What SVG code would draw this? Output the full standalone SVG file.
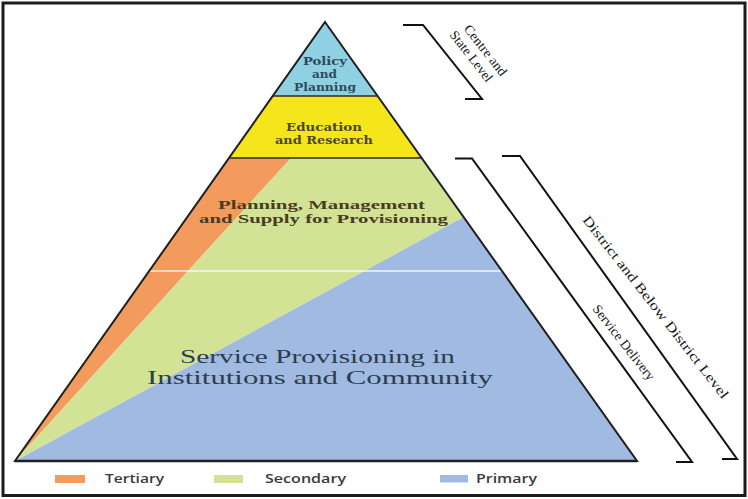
<svg xmlns="http://www.w3.org/2000/svg" width="748" height="499" viewBox="0 0 748 499">
<style>
.edge{fill:none;stroke:#1f1f1f;stroke-width:2;stroke-linejoin:miter}
.sep{fill:none;stroke:#2a2a2a;stroke-width:1.5}
.br{fill:none;stroke:#111;stroke-width:2;stroke-linejoin:miter}
.bold{font-family:"Liberation Serif","Times New Roman",serif;font-weight:bold}
.heavy{font-family:"DejaVu Serif","Liberation Serif",serif;font-weight:bold}
.reg{font-family:"Liberation Serif","Times New Roman",serif}
.side{font-family:"Liberation Serif","Times New Roman",serif;font-size:13.5px;fill:#1a1a1a}
.leg{font-family:"Open Sans","Liberation Sans",sans-serif;font-weight:600;font-size:13px;fill:#3a3a3a}
</style>
<rect x="0" y="0" width="748" height="499" fill="#ffffff"/>
<rect x="3" y="3" width="742" height="492.5" fill="#ffffff" stroke="#1c1c1c" stroke-width="3"/>

<g id="policy">
<polygon points="325,22 272.7,96 377.6,96" fill="#8fd0e2"/>
<text class="heavy" font-size="10.5" fill="#2f4a5a" x="303" y="64.5" textLength="44" lengthAdjust="spacingAndGlyphs">Policy</text>
<text class="heavy" font-size="10.5" fill="#2f4a5a" x="312" y="77.5" textLength="25" lengthAdjust="spacingAndGlyphs">and</text>
<text class="heavy" font-size="10.5" fill="#2f4a5a" x="294" y="90.5" textLength="62" lengthAdjust="spacingAndGlyphs">Planning</text>
</g>

<g id="education">
<polygon points="272.7,96 377.6,96 421.7,158 229,158" fill="#f5e61c"/>
<text class="heavy" font-size="11" fill="#4a4630" x="286" y="130.5" textLength="76" lengthAdjust="spacingAndGlyphs">Education</text>
<text class="heavy" font-size="11" fill="#4a4630" x="275" y="144" textLength="98" lengthAdjust="spacingAndGlyphs">and Research</text>
</g>

<g id="service-levels">
<polygon points="229,158 291,158 15,461" fill="#f39b5d"/>
<polygon points="291,158 421.7,158 463.6,217 15,461" fill="#d3e396"/>
<polygon points="463.6,217 637,461 15,461" fill="#a0bae1"/>
<line x1="150" y1="271" x2="502" y2="271" stroke="#ffffff" stroke-width="1.6" opacity="0.85"/>
</g>

<g id="planning">
<text class="bold" font-size="13.5" fill="#4a3b22" x="218" y="209.3" textLength="207" lengthAdjust="spacingAndGlyphs">Planning, Management</text>
<text class="bold" font-size="13.5" fill="#4a3b22" x="199" y="223.3" textLength="249" lengthAdjust="spacingAndGlyphs">and Supply for Provisioning</text>
</g>

<g id="service">
<text class="reg" font-size="18.5" fill="#2c3d4f" x="180" y="362.7" textLength="275" lengthAdjust="spacingAndGlyphs">Service Provisioning in</text>
<text class="reg" font-size="18.5" fill="#2c3d4f" x="147" y="384" textLength="346" lengthAdjust="spacingAndGlyphs">Institutions and Community</text>
</g>

<g id="outline">
<polygon class="edge" points="325,22 637,461 15,461"/>
<line class="sep" x1="272.7" y1="96" x2="377.6" y2="96"/>
<line class="sep" x1="229" y1="158" x2="421.7" y2="158"/>
<line x1="15" y1="461" x2="637" y2="461" stroke="#1f1f1f" stroke-width="2.5"/>
</g>

<g id="connectors">
<polyline class="br" points="403,25 423,25 482,99 465,99"/>
<polyline class="br" points="455,158.5 472,158.5 692,462 676,462"/>
<polyline class="br" points="502,156 520,156 737,459 722,459"/>
</g>

<g id="centre-label" transform="translate(449,35) rotate(52)">
<text class="side" font-size="13" x="4" y="-15" textLength="61" lengthAdjust="spacingAndGlyphs">Centre and</text>
<text class="side" font-size="13" x="0" y="0" textLength="61" lengthAdjust="spacingAndGlyphs">State Level</text>
</g>
<g id="service-delivery-label" transform="translate(592,309) rotate(52)">
<text class="side" x="0" y="0" textLength="92" lengthAdjust="spacingAndGlyphs">Service Delivery</text>
</g>
<g id="district-label" transform="translate(582,220) rotate(52)">
<text class="side" font-size="15" x="0" y="0" textLength="228" lengthAdjust="spacingAndGlyphs">District and Below District Level</text>
</g>

<g id="legend">
<rect x="55" y="475" width="30" height="8" fill="#f39b5d"/>
<text class="leg" x="105" y="482.5" textLength="59" lengthAdjust="spacingAndGlyphs">Tertiary</text>
<rect x="214" y="475" width="29" height="8" fill="#d3e396"/>
<text class="leg" x="265" y="482.5" textLength="81" lengthAdjust="spacingAndGlyphs">Secondary</text>
<rect x="440" y="475" width="28" height="7.5" fill="#a0bae1"/>
<text class="leg" x="476" y="482.5" textLength="61" lengthAdjust="spacingAndGlyphs">Primary</text>
</g>
</svg>
